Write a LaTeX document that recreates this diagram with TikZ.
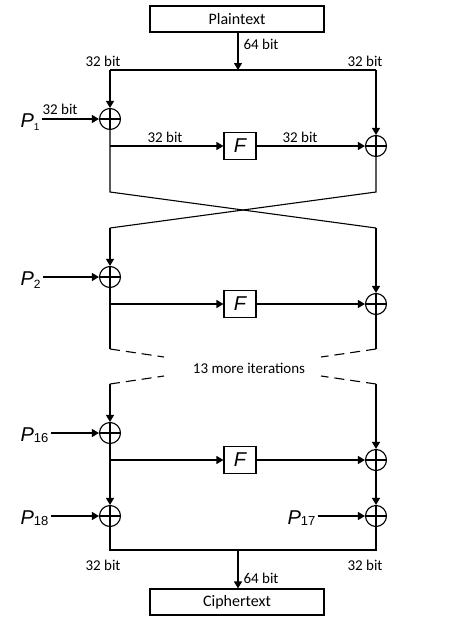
\documentclass[tikz,border=0pt]{standalone}
\usepackage{fontspec}
\setmainfont{Carlito}
\newfontfamily\pfont{Liberation Sans}
\usetikzlibrary{arrows.meta}
\begin{document}
\begin{tikzpicture}[x=1pt,y=-1pt,line width=1.1pt,
  arr/.style={-{Triangle[length=7pt,width=8pt]}},
  txtbox/.style={draw,minimum width=174pt,minimum height=26pt,inner sep=0pt,font=\fontsize{16}{16}\selectfont},
  fbox/.style={draw,minimum width=32pt,minimum height=27pt,inner sep=0pt,font=\pfont\itshape\fontsize{20}{20}\selectfont},
  xor/.style={circle,draw,minimum size=21pt,inner sep=0pt,
    path picture={\draw (path picture bounding box.north)--(path picture bounding box.south)
      (path picture bounding box.west)--(path picture bounding box.east);}},
  lbl/.style={font=\fontsize{15}{15}\selectfont,inner sep=0pt},
  plbl/.style={font=\pfont\fontsize{20}{20}\selectfont,inner sep=2pt,anchor=base west},
  dsh/.style={dash pattern=on 10pt off 6pt}]
\useasboundingbox (0,0) rectangle (474,632);

% boxes
\node[txtbox] (plain) at (237,19) {Plaintext};
\node[txtbox] (cipher) at (237,602) {Ciphertext};
\node[fbox] (f1) at (240,146) {F};
\node[fbox] (f2) at (240,304) {F};
\node[fbox] (f3) at (240,460) {F};

% xors
\node[xor] (x1) at (110,119) {};
\node[xor] (xr1) at (376,146) {};
\node[xor] (x2) at (110,277) {};
\node[xor] (xr2) at (376,304) {};
\node[xor] (x16) at (110,433) {};
\node[xor] (xr16) at (376,460) {};
\node[xor] (x18) at (110,516) {};
\node[xor] (xr17) at (376,516) {};

% P labels
\node[plbl] (p1) at (18,127) {\itshape P\raisebox{-3pt}{\upshape\fontsize{10}{10}\selectfont 1}};
\node[plbl] (p2) at (18,285) {\itshape P\raisebox{-3pt}{\upshape\fontsize{12}{12}\selectfont 2}};
\node[plbl] (p16) at (18,441) {\itshape P\raisebox{-1pt}{\upshape\fontsize{13}{13}\selectfont 16}};
\node[plbl] (p18) at (18,524) {\itshape P\raisebox{-1pt}{\upshape\fontsize{13}{13}\selectfont 18}};
\node[plbl] (p17) at (285,524) {\itshape P\raisebox{-1pt}{\upshape\fontsize{13}{13}\selectfont 17}};

% coordinates
\coordinate (split) at (238,70);
\coordinate (tl) at (110,70);
\coordinate (tr) at (376,70);
\coordinate (b1) at (110,146);
\coordinate (c1l) at (110,192);
\coordinate (c1r) at (376,192);
\coordinate (c2l) at (110,228);
\coordinate (c2r) at (376,228);
\coordinate (b2) at (110,304);
\coordinate (d1l) at (110,349);
\coordinate (d1r) at (376,349);
\coordinate (e1l) at (164,357);
\coordinate (e1r) at (321,357);
\coordinate (e2l) at (164,376);
\coordinate (e2r) at (321,376);
\coordinate (d2l) at (110,384);
\coordinate (d2r) at (376,384);
\coordinate (b3) at (110,460);
\coordinate (ol) at (110,550);
\coordinate (or) at (376,550);
\coordinate (om) at (238,550);

% top
\draw[arr] (plain.south -| split) -- (split);
\draw (tl) -- (tr);
\draw[arr] (tl) -- (x1);
\draw[arr] (tr) -- (xr1);
\draw[arr] (p1.east |- x1) -- (x1);
% round 1
\draw[arr] (b1) -- (f1);
\draw[arr] (f1) -- (xr1);
\draw (x1) -- (c1l) -- (c2r);
\draw (xr1) -- (c1r) -- (c2l);
% round 2
\draw[arr] (c2l) -- (x2);
\draw[arr] (c2r) -- (xr2);
\draw[arr] (p2.east |- x2) -- (x2);
\draw[arr] (b2) -- (f2);
\draw[arr] (f2) -- (xr2);
\draw (x2) -- (d1l);
\draw (xr2) -- (d1r);
\draw[dsh] (d1l) -- (e1l);
\draw[dsh] (d2l) -- (e2l);
\draw[dsh] (d1r) -- (e1r);
\draw[dsh] (d2r) -- (e2r);
% round 16
\draw[arr] (d2l) -- (x16);
\draw[arr] (d2r) -- (xr16);
\draw[arr] (p16.east |- x16) -- (x16);
\draw[arr] (b3) -- (f3);
\draw[arr] (f3) -- (xr16);
\draw[arr] (x16) -- (x18);
\draw[arr] (xr16) -- (xr17);
\draw[arr] (p18.east |- x18) -- (x18);
\draw[arr] (p17.east |- xr17) -- (xr17);
% output
\draw (x18) -- (ol) -- (or) -- (xr17);
\draw[arr] (om) -- (cipher.north -| om);

% labels
\node[lbl,anchor=west] (l64a) at (243,44) {64 bit};
\node[lbl] (l32a) at (103,61) {32 bit};
\node[lbl] (l32b) at (365,61) {32 bit};
\node[lbl] (l32c) at (60,109) {32 bit};
\node[lbl] (l32d) at (165,137) {32 bit};
\node[lbl] (l32e) at (300,137) {32 bit};
\node[lbl] (iter) at (249,368) {13 more iterations};
\node[lbl] (l32f) at (103,565) {32 bit};
\node[lbl] (l32g) at (365,565) {32 bit};
\node[lbl,anchor=west] (l64b) at (243,578) {64 bit};
\end{tikzpicture}
\end{document}
